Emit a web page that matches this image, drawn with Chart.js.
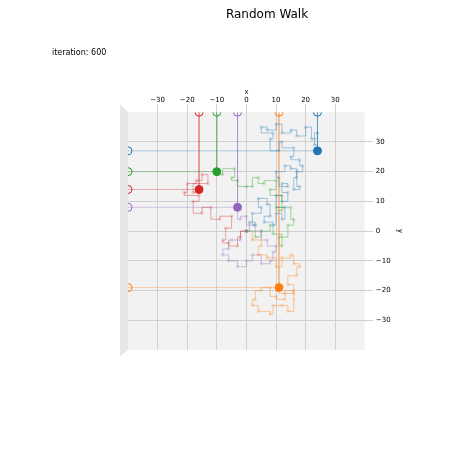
<!DOCTYPE html><html><head><script src="https://cdn.jsdelivr.net/npm/chart.js@4"></script>
<style>body{margin:0}canvas{display:block}</style></head><body><div style="width:474px;height:474px"><canvas id="c"></canvas></div><script>
const xTicks=[-30,-20,-10,0,10,20,30];
const yTicks=[-30,-20,-10,0,10,20,30];
const colors=['#1f77b4','#ff7f0e','#2ca02c','#d62728','#9467bd'];
const blueWalk=[[0,0],[1,3],[3,2],[2,6],[5,8],[4,11],[7,9],[8,5],[6,3],[9,2],[10,6],[12,4],[13,8],[10,12],[12,10],[14,13],[12,16],[14,15],[11,18],[10,20],[13,22],[15,21],[17,18],[16,14],[18,15],[17,20],[19,22],[18,24],[15,25],[16,28],[12,30],[11,27],[8,31],[9,33],[5,35],[7,34],[10,36],[12,33],[15,34],[17,32],[20,35],[22,31],[24,33],[23,29],[24,27]];
const orangeWalk=[[0,0],[2,-3],[5,-5],[4,-8],[7,-9],[10,-12],[12,-9],[15,-8],[16,-11],[18,-12],[17,-15],[14,-18],[16,-21],[13,-23],[10,-22],[8,-19],[5,-20],[3,-23],[2,-25],[4,-27],[8,-28],[9,-25],[12,-25],[14,-27],[16,-23],[16,-20],[13,-21],[11,-19]];
const greenWalk=[[0,0],[3,-2],[5,0],[8,2],[9,-1],[12,-5],[11,-2],[14,2],[16,4],[15,8],[12,7],[10,8],[12,12],[8,14],[10,17],[6,16],[4,18],[2,15],[0,15],[-3,17],[-5,18],[-4,21],[-8,19],[-10,20]];
const redWalk=[[0,0],[-2,-2],[-3,-5],[-6,-4],[-8,-3],[-7,1],[-5,5],[-9,4],[-12,8],[-15,6],[-18,10],[-16,12],[-21,13],[-20,16],[-17,17],[-15,19],[-13,16],[-18,13],[-16,14]];
const purpleWalk=[[0,0],[-2,-3],[-5,-3],[-6,-6],[-8,-8],[-6,-10],[-3,-12],[0,-10],[2,-8],[5,-11],[8,-10],[9,-7],[10,-5],[7,-3],[5,0],[3,2],[0,5],[-2,4],[-3,8]];
const walks=[blueWalk,orangeWalk,greenWalk,redWalk,purpleWalk];
const iterLabel='iteration: 600';
const ds=[];
walks.forEach((w,i)=>{
  const c=colors[i];
  ds.push({data:w.map(p=>({x:p[0],y:p[1]})),showLine:true,stepped:true,borderColor:c+'66',borderWidth:1,pointRadius:1.5,pointStyle:'rect',pointBackgroundColor:'rgba(0,0,0,0)',pointBorderColor:c+'55',pointBorderWidth:0.6});
  const e=w[w.length-1];
  ds.push({data:[{x:e[0],y:40},{x:e[0],y:e[1]},{x:-40,y:e[1]}],showLine:true,borderColor:c+'55',borderWidth:1,pointRadius:[4,0,4],pointBackgroundColor:'rgba(0,0,0,0)',pointBorderColor:c});
  ds.push({data:[{x:e[0],y:e[1]}],pointRadius:4,pointBackgroundColor:c,pointBorderColor:c});
});
const fmt=v=>String(v).replace('-','\u2212');
new Chart(document.getElementById('c'),{type:'scatter',data:{datasets:ds},
options:{responsive:true,maintainAspectRatio:false,animation:false,
layout:{padding:{left:128,right:68,bottom:124}},
plugins:{legend:{display:false},tooltip:{enabled:false},
 title:{display:true,text:'Random Walk',color:'#000',font:{size:12,family:'DejaVu Sans',weight:'normal'},padding:{top:8,bottom:65}}},
scales:{x:{position:'top',min:-40,max:40,afterBuildTicks:a=>{a.ticks=xTicks.map(v=>({value:v}))},
 ticks:{color:'#000',font:{size:7,family:'DejaVu Sans'},padding:0,callback:fmt},grid:{color:'#d0d0d0'},border:{display:false},
 title:{display:true,text:'x',color:'#000',font:{size:7},padding:0}},
 y:{position:'right',min:-40,max:40,afterBuildTicks:a=>{a.ticks=yTicks.map(v=>({value:v}))},
 ticks:{color:'#000',font:{size:7,family:'DejaVu Sans'},callback:fmt},grid:{color:'#d0d0d0'},border:{display:false},
 title:{display:true,text:'y',color:'#000',font:{size:7},padding:2}}}},
plugins:[{id:'bg',beforeDraw(ch){const a=ch.chartArea,g=ch.ctx;g.save();g.fillStyle='#f2f2f2';g.fillRect(a.left,a.top,a.right-a.left,a.bottom-a.top);
 g.fillStyle='#e6e6e6';g.beginPath();g.moveTo(a.left-8,a.top-8);g.lineTo(a.left,a.top);g.lineTo(a.left,a.bottom);g.lineTo(a.left-8,a.bottom+6);g.fill();
 g.fillStyle='#000';g.font='8px DejaVu Sans';g.fillText(iterLabel,52,55);g.restore();}}]});
</script></body></html>
